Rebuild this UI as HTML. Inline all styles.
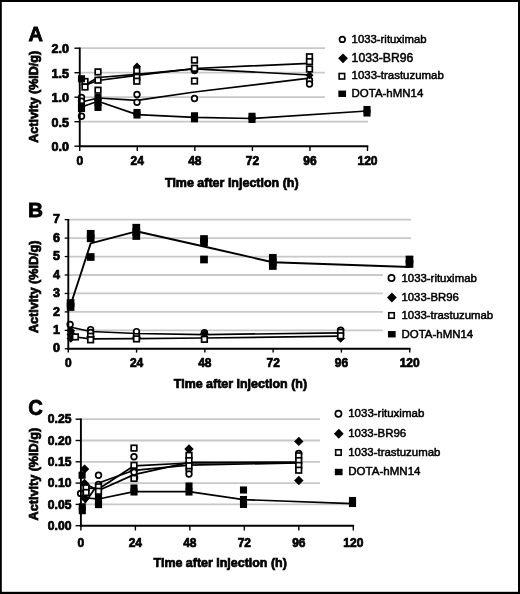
<!DOCTYPE html>
<html lang="en"><head><meta charset="utf-8"><title>Figure</title>
<style>html,body{margin:0;padding:0;background:#fff}svg{display:block}text{fill:#000}</style></head>
<body>
<svg width="520" height="594" viewBox="0 0 520 594" font-family="'Liberation Sans', sans-serif">
<g>
<rect x="-20" y="-20" width="560" height="634" fill="#fff"/>
<line x1="79.75" y1="121.7" x2="368.0" y2="121.7" stroke="#c8c8c8" stroke-width="1.8" />
<line x1="79.75" y1="97.2" x2="325" y2="97.2" stroke="#c8c8c8" stroke-width="1.8" />
<line x1="79.75" y1="72.7" x2="325" y2="72.7" stroke="#c8c8c8" stroke-width="1.8" />
<line x1="79.75" y1="48.2" x2="325" y2="48.2" stroke="#c8c8c8" stroke-width="1.8" />
<polyline points="81.5,102 98,98 137,100.4 194.5,92 309.5,78.2" fill="none" stroke="#000" stroke-width="1.7" stroke-linejoin="round"/>
<polyline points="85,85 98,77.5 137,74.3 194.5,68.8 309.5,75" fill="none" stroke="#000" stroke-width="1.7" stroke-linejoin="round"/>
<polyline points="84.5,85.5 98,80.5 137,75.3 194.5,68.5 309.5,63.3" fill="none" stroke="#000" stroke-width="1.7" stroke-linejoin="round"/>
<polyline points="81.5,107 98,101.3 137,114.6 194.5,117.3 252,118.5 367,111" fill="none" stroke="#000" stroke-width="1.7" stroke-linejoin="round"/>
<circle cx="81.5" cy="97.5" r="2.85" fill="#fff" stroke="#000" stroke-width="1.7"/>
<circle cx="81.5" cy="101.25" r="2.85" fill="#fff" stroke="#000" stroke-width="1.7"/>
<circle cx="81.5" cy="116.25" r="2.85" fill="#fff" stroke="#000" stroke-width="1.7"/>
<circle cx="137" cy="94.5" r="2.85" fill="#fff" stroke="#000" stroke-width="1.7"/>
<circle cx="137" cy="102.3" r="2.85" fill="#fff" stroke="#000" stroke-width="1.7"/>
<circle cx="194.5" cy="70.4" r="2.85" fill="#fff" stroke="#000" stroke-width="1.7"/>
<circle cx="194.5" cy="98.5" r="2.85" fill="#fff" stroke="#000" stroke-width="1.7"/>
<circle cx="309.5" cy="80.2" r="2.85" fill="#fff" stroke="#000" stroke-width="1.7"/>
<circle cx="309.5" cy="84" r="2.85" fill="#fff" stroke="#000" stroke-width="1.7"/>
<polygon points="137,62.5 141.0,66.5 137,70.5 133.0,66.5" fill="#000"/>
<polygon points="194.5,66.4 198.5,70.4 194.5,74.4 190.5,70.4" fill="#000"/>
<polygon points="309.5,71.3 313.5,75.3 309.5,79.3 305.5,75.3" fill="#000"/>
<rect x="82.20" y="78.70" width="5.6" height="5.6" fill="#fff" stroke="#000" stroke-width="1.7"/>
<rect x="82.20" y="84.20" width="5.6" height="5.6" fill="#fff" stroke="#000" stroke-width="1.7"/>
<rect x="95.20" y="69.10" width="5.6" height="5.6" fill="#fff" stroke="#000" stroke-width="1.7"/>
<rect x="95.20" y="77.40" width="5.6" height="5.6" fill="#fff" stroke="#000" stroke-width="1.7"/>
<rect x="95.20" y="87.40" width="5.6" height="5.6" fill="#fff" stroke="#000" stroke-width="1.7"/>
<rect x="134.00" y="67.80" width="5.6" height="5.6" fill="#fff" stroke="#000" stroke-width="1.7"/>
<rect x="134.00" y="74.50" width="5.6" height="5.6" fill="#fff" stroke="#000" stroke-width="1.7"/>
<rect x="134.00" y="78.40" width="5.6" height="5.6" fill="#fff" stroke="#000" stroke-width="1.7"/>
<rect x="191.70" y="57.30" width="5.6" height="5.6" fill="#fff" stroke="#000" stroke-width="1.7"/>
<rect x="191.70" y="65.50" width="5.6" height="5.6" fill="#fff" stroke="#000" stroke-width="1.7"/>
<rect x="191.70" y="78.20" width="5.6" height="5.6" fill="#fff" stroke="#000" stroke-width="1.7"/>
<rect x="306.70" y="54.00" width="5.6" height="5.6" fill="#fff" stroke="#000" stroke-width="1.7"/>
<rect x="306.70" y="58.80" width="5.6" height="5.6" fill="#fff" stroke="#000" stroke-width="1.7"/>
<rect x="306.70" y="66.20" width="5.6" height="5.6" fill="#fff" stroke="#000" stroke-width="1.7"/>
<rect x="77.95" y="75.20" width="7.1" height="7.1" fill="#000"/>
<rect x="77.95" y="102.45" width="7.1" height="7.1" fill="#000"/>
<rect x="77.95" y="104.95" width="7.1" height="7.1" fill="#000"/>
<rect x="94.45" y="94.05" width="7.1" height="7.1" fill="#000"/>
<rect x="94.45" y="98.95" width="7.1" height="7.1" fill="#000"/>
<rect x="94.45" y="103.85" width="7.1" height="7.1" fill="#000"/>
<rect x="133.45" y="108.95" width="7.1" height="7.1" fill="#000"/>
<rect x="133.45" y="111.45" width="7.1" height="7.1" fill="#000"/>
<rect x="190.95" y="112.25" width="7.1" height="7.1" fill="#000"/>
<rect x="190.95" y="115.25" width="7.1" height="7.1" fill="#000"/>
<rect x="248.45" y="112.75" width="7.1" height="7.1" fill="#000"/>
<rect x="248.45" y="115.85" width="7.1" height="7.1" fill="#000"/>
<rect x="363.45" y="105.95" width="7.1" height="7.1" fill="#000"/>
<rect x="363.45" y="109.45" width="7.1" height="7.1" fill="#000"/>
<line x1="79.75" y1="47.5" x2="79.75" y2="147.0" stroke="#000" stroke-width="1.9" />
<line x1="78.95" y1="146.2" x2="368.3" y2="146.2" stroke="#000" stroke-width="1.9" />
<line x1="74.45" y1="146.2" x2="79.75" y2="146.2" stroke="#000" stroke-width="1.4" />
<text transform="translate(68.9,151.2) scale(1.05,1)" font-size="12" font-weight="bold" text-anchor="end" stroke="#000" stroke-width="0.7">0.0</text>
<line x1="74.45" y1="121.7" x2="79.75" y2="121.7" stroke="#000" stroke-width="1.4" />
<text transform="translate(68.9,126.7) scale(1.05,1)" font-size="12" font-weight="bold" text-anchor="end" stroke="#000" stroke-width="0.7">0.5</text>
<line x1="74.45" y1="97.2" x2="79.75" y2="97.2" stroke="#000" stroke-width="1.4" />
<text transform="translate(68.9,102.2) scale(1.05,1)" font-size="12" font-weight="bold" text-anchor="end" stroke="#000" stroke-width="0.7">1.0</text>
<line x1="74.45" y1="72.7" x2="79.75" y2="72.7" stroke="#000" stroke-width="1.4" />
<text transform="translate(68.9,77.7) scale(1.05,1)" font-size="12" font-weight="bold" text-anchor="end" stroke="#000" stroke-width="0.7">1.5</text>
<line x1="74.45" y1="48.2" x2="79.75" y2="48.2" stroke="#000" stroke-width="1.4" />
<text transform="translate(68.9,53.2) scale(1.05,1)" font-size="12" font-weight="bold" text-anchor="end" stroke="#000" stroke-width="0.7">2.0</text>
<line x1="79.75" y1="146.2" x2="79.75" y2="151.0" stroke="#000" stroke-width="1.4" />
<text x="79.75" y="164.6" font-size="12" font-weight="bold" text-anchor="middle" stroke="#000" stroke-width="0.7" >0</text>
<line x1="137.3" y1="146.2" x2="137.3" y2="151.0" stroke="#000" stroke-width="1.4" />
<text x="137.3" y="164.6" font-size="12" font-weight="bold" text-anchor="middle" stroke="#000" stroke-width="0.7" >24</text>
<line x1="194.85" y1="146.2" x2="194.85" y2="151.0" stroke="#000" stroke-width="1.4" />
<text x="194.85" y="164.6" font-size="12" font-weight="bold" text-anchor="middle" stroke="#000" stroke-width="0.7" >48</text>
<line x1="252.4" y1="146.2" x2="252.4" y2="151.0" stroke="#000" stroke-width="1.4" />
<text x="252.4" y="164.6" font-size="12" font-weight="bold" text-anchor="middle" stroke="#000" stroke-width="0.7" >72</text>
<line x1="309.95" y1="146.2" x2="309.95" y2="151.0" stroke="#000" stroke-width="1.4" />
<text x="309.95" y="164.6" font-size="12" font-weight="bold" text-anchor="middle" stroke="#000" stroke-width="0.7" >96</text>
<line x1="367.5" y1="146.2" x2="367.5" y2="151.0" stroke="#000" stroke-width="1.4" />
<text x="367.5" y="164.6" font-size="12" font-weight="bold" text-anchor="middle" stroke="#000" stroke-width="0.7" >120</text>
<text x="165" y="187.2" font-size="12.4" font-weight="bold" text-anchor="start" textLength="133.6" lengthAdjust="spacingAndGlyphs" stroke="#000" stroke-width="0.7" >Time after Injection (h)</text>
<text transform="translate(38.0,142.8) rotate(-90)" font-size="12.3" font-weight="bold" stroke="#000" stroke-width="0.7" textLength="92" lengthAdjust="spacingAndGlyphs">Activity (%ID/g)</text>
<text x="28.4" y="40.7" font-size="20" font-weight="bold" stroke="#000" stroke-width="0.8" textLength="14.4" lengthAdjust="spacingAndGlyphs">A</text>
<circle cx="342.3" cy="39.4" r="2.8" fill="#fff" stroke="#000" stroke-width="1.7"/>
<text x="351.6" y="42.7" font-size="11.4" font-weight="normal" text-anchor="start" textLength="75" lengthAdjust="spacingAndGlyphs" stroke="#000" stroke-width="0.5" >1033-rituximab</text>
<polygon points="343.0,53.4 347.9,58.3 343.0,63.2 338.1,58.3" fill="#000"/>
<text x="351.6" y="61.7" font-size="12.3" font-weight="normal" text-anchor="start" textLength="61.7" lengthAdjust="spacingAndGlyphs" stroke="#000" stroke-width="0.5" >1033-BR96</text>
<rect x="339.15" y="73.50" width="5.5" height="5.5" fill="#fff" stroke="#000" stroke-width="1.6"/>
<text x="351.6" y="79.3" font-size="11.4" font-weight="normal" text-anchor="start" textLength="92.2" lengthAdjust="spacingAndGlyphs" stroke="#000" stroke-width="0.5" >1033-trastuzumab</text>
<rect x="338.35" y="90.55" width="7.7" height="6.4" fill="#000"/>
<text x="351.6" y="97.2" font-size="11.4" font-weight="normal" text-anchor="start" textLength="71.7" lengthAdjust="spacingAndGlyphs" stroke="#000" stroke-width="0.5" >DOTA-hMN14</text>
<line x1="68.3" y1="330.35" x2="382.8" y2="330.35" stroke="#c8c8c8" stroke-width="1.8" />
<line x1="68.3" y1="311.9" x2="382.8" y2="311.9" stroke="#c8c8c8" stroke-width="1.8" />
<line x1="68.3" y1="293.45" x2="382.8" y2="293.45" stroke="#c8c8c8" stroke-width="1.8" />
<line x1="68.3" y1="275.0" x2="382.8" y2="275.0" stroke="#c8c8c8" stroke-width="1.8" />
<line x1="68.3" y1="256.55" x2="411" y2="256.55" stroke="#c8c8c8" stroke-width="1.8" />
<line x1="68.3" y1="238.1" x2="411" y2="238.1" stroke="#c8c8c8" stroke-width="1.8" />
<line x1="68.3" y1="219.65" x2="411" y2="219.65" stroke="#c8c8c8" stroke-width="1.8" />
<polyline points="70,327 90.6,331.5 136.5,333.5 204.4,334.6 340.6,332.9" fill="none" stroke="#000" stroke-width="1.7" stroke-linejoin="round"/>
<polyline points="75.4,337 90.6,338.8 136.5,338.6 204.4,338 340.6,336.1" fill="none" stroke="#000" stroke-width="1.7" stroke-linejoin="round"/>
<polyline points="70.6,305 90.7,243.4 136.3,231.3 204,246.5 272.8,262.2 409.5,267" fill="none" stroke="#000" stroke-width="1.9" stroke-linejoin="round"/>
<polygon points="70.8,326.5 75.1,330.8 70.8,335.1 66.5,330.8" fill="#000"/>
<polygon points="70.8,330.3 75.1,334.6 70.8,338.9 66.5,334.6" fill="#000"/>
<polygon points="70.8,334.1 75.1,338.4 70.8,342.7 66.5,338.4" fill="#000"/>
<polygon points="72.6,330.7 76.9,335 72.6,339.3 68.3,335" fill="#000"/>
<polygon points="90.6,332.2 94.9,336.5 90.6,340.8 86.3,336.5" fill="#000"/>
<polygon points="136.5,333.2 140.8,337.5 136.5,341.8 132.2,337.5" fill="#000"/>
<polygon points="204.4,329.2 208.7,333.5 204.4,337.8 200.1,333.5" fill="#000"/>
<polygon points="340.6,334.2 344.9,338.5 340.6,342.8 336.3,338.5" fill="#000"/>
<circle cx="70.1" cy="324.4" r="2.85" fill="#fff" stroke="#000" stroke-width="1.7"/>
<circle cx="90.6" cy="329.6" r="2.85" fill="#fff" stroke="#000" stroke-width="1.7"/>
<circle cx="90.6" cy="332.4" r="2.85" fill="#fff" stroke="#000" stroke-width="1.7"/>
<circle cx="136.5" cy="331.6" r="2.85" fill="#fff" stroke="#000" stroke-width="1.7"/>
<circle cx="204.4" cy="332.6" r="2.85" fill="#fff" stroke="#000" stroke-width="1.7"/>
<circle cx="340.6" cy="330.3" r="2.85" fill="#fff" stroke="#000" stroke-width="1.7"/>
<polygon points="204.4,329.6 207.7,332.9 204.4,336.2 201.1,332.9" fill="#000"/>
<rect x="72.60" y="334.10" width="5.6" height="5.6" fill="#fff" stroke="#000" stroke-width="1.7"/>
<rect x="87.80" y="333.50" width="5.6" height="5.6" fill="#fff" stroke="#000" stroke-width="1.7"/>
<rect x="87.80" y="337.00" width="5.6" height="5.6" fill="#fff" stroke="#000" stroke-width="1.7"/>
<rect x="133.70" y="333.80" width="5.6" height="5.6" fill="#fff" stroke="#000" stroke-width="1.7"/>
<rect x="133.70" y="336.10" width="5.6" height="5.6" fill="#fff" stroke="#000" stroke-width="1.7"/>
<rect x="201.60" y="336.50" width="5.6" height="5.6" fill="#fff" stroke="#000" stroke-width="1.7"/>
<rect x="337.80" y="329.50" width="5.6" height="5.6" fill="#fff" stroke="#000" stroke-width="1.7"/>
<rect x="337.80" y="333.00" width="5.6" height="5.6" fill="#fff" stroke="#000" stroke-width="1.7"/>
<rect x="66.75" y="299.15" width="7.7" height="7.7" fill="#000"/>
<rect x="66.75" y="303.15" width="7.7" height="7.7" fill="#000"/>
<rect x="86.85" y="229.95" width="7.7" height="7.7" fill="#000"/>
<rect x="86.85" y="234.45" width="7.7" height="7.7" fill="#000"/>
<rect x="86.85" y="253.15" width="7.7" height="7.7" fill="#000"/>
<rect x="132.45" y="223.85" width="7.7" height="7.7" fill="#000"/>
<rect x="132.45" y="228.15" width="7.7" height="7.7" fill="#000"/>
<rect x="132.45" y="232.15" width="7.7" height="7.7" fill="#000"/>
<rect x="200.15" y="235.15" width="7.7" height="7.7" fill="#000"/>
<rect x="200.15" y="238.45" width="7.7" height="7.7" fill="#000"/>
<rect x="200.15" y="255.65" width="7.7" height="7.7" fill="#000"/>
<rect x="268.95" y="253.95" width="7.7" height="7.7" fill="#000"/>
<rect x="268.95" y="258.15" width="7.7" height="7.7" fill="#000"/>
<rect x="268.95" y="262.15" width="7.7" height="7.7" fill="#000"/>
<rect x="405.65" y="255.65" width="7.7" height="7.7" fill="#000"/>
<rect x="405.65" y="260.15" width="7.7" height="7.7" fill="#000"/>
<line x1="68.3" y1="218.95" x2="68.3" y2="349.7" stroke="#000" stroke-width="1.9" />
<line x1="67.5" y1="348.8" x2="410.6" y2="348.8" stroke="#000" stroke-width="2.0" />
<line x1="64.7" y1="348.8" x2="68.3" y2="348.8" stroke="#000" stroke-width="1.3" />
<text transform="translate(59.9,352.4) scale(1.05,1)" font-size="12" font-weight="bold" text-anchor="end" stroke="#000" stroke-width="0.7">0</text>
<line x1="64.7" y1="330.35" x2="68.3" y2="330.35" stroke="#000" stroke-width="1.3" />
<text transform="translate(59.9,333.95) scale(1.05,1)" font-size="12" font-weight="bold" text-anchor="end" stroke="#000" stroke-width="0.7">1</text>
<line x1="64.7" y1="311.9" x2="68.3" y2="311.9" stroke="#000" stroke-width="1.3" />
<text transform="translate(59.9,315.5) scale(1.05,1)" font-size="12" font-weight="bold" text-anchor="end" stroke="#000" stroke-width="0.7">2</text>
<line x1="64.7" y1="293.45" x2="68.3" y2="293.45" stroke="#000" stroke-width="1.3" />
<text transform="translate(59.9,297.05) scale(1.05,1)" font-size="12" font-weight="bold" text-anchor="end" stroke="#000" stroke-width="0.7">3</text>
<line x1="64.7" y1="275.0" x2="68.3" y2="275.0" stroke="#000" stroke-width="1.3" />
<text transform="translate(59.9,278.6) scale(1.05,1)" font-size="12" font-weight="bold" text-anchor="end" stroke="#000" stroke-width="0.7">4</text>
<line x1="64.7" y1="256.55" x2="68.3" y2="256.55" stroke="#000" stroke-width="1.3" />
<text transform="translate(59.9,260.15) scale(1.05,1)" font-size="12" font-weight="bold" text-anchor="end" stroke="#000" stroke-width="0.7">5</text>
<line x1="64.7" y1="238.1" x2="68.3" y2="238.1" stroke="#000" stroke-width="1.3" />
<text transform="translate(59.9,241.7) scale(1.05,1)" font-size="12" font-weight="bold" text-anchor="end" stroke="#000" stroke-width="0.7">6</text>
<line x1="64.7" y1="219.65" x2="68.3" y2="219.65" stroke="#000" stroke-width="1.3" />
<text transform="translate(59.9,223.25) scale(1.05,1)" font-size="12" font-weight="bold" text-anchor="end" stroke="#000" stroke-width="0.7">7</text>
<line x1="68.3" y1="348.8" x2="68.3" y2="352.6" stroke="#000" stroke-width="1.4" />
<text x="68.3" y="366.6" font-size="12" font-weight="bold" text-anchor="middle" stroke="#000" stroke-width="0.7" >0</text>
<line x1="136.58" y1="348.8" x2="136.58" y2="352.6" stroke="#000" stroke-width="1.4" />
<text x="136.58" y="366.6" font-size="12" font-weight="bold" text-anchor="middle" stroke="#000" stroke-width="0.7" >24</text>
<line x1="204.86" y1="348.8" x2="204.86" y2="352.6" stroke="#000" stroke-width="1.4" />
<text x="204.86" y="366.6" font-size="12" font-weight="bold" text-anchor="middle" stroke="#000" stroke-width="0.7" >48</text>
<line x1="273.14" y1="348.8" x2="273.14" y2="352.6" stroke="#000" stroke-width="1.4" />
<text x="273.14" y="366.6" font-size="12" font-weight="bold" text-anchor="middle" stroke="#000" stroke-width="0.7" >72</text>
<line x1="341.42" y1="348.8" x2="341.42" y2="352.6" stroke="#000" stroke-width="1.4" />
<text x="341.42" y="366.6" font-size="12" font-weight="bold" text-anchor="middle" stroke="#000" stroke-width="0.7" >96</text>
<line x1="409.7" y1="348.8" x2="409.7" y2="352.6" stroke="#000" stroke-width="1.4" />
<text x="409.7" y="366.6" font-size="12" font-weight="bold" text-anchor="middle" stroke="#000" stroke-width="0.7" >120</text>
<text x="173.8" y="388.2" font-size="12.4" font-weight="bold" text-anchor="start" textLength="133.3" lengthAdjust="spacingAndGlyphs" stroke="#000" stroke-width="0.7" >Time after Injection (h)</text>
<text transform="translate(37.9,333.0) rotate(-90)" font-size="12.3" font-weight="bold" stroke="#000" stroke-width="0.7" textLength="92.5" lengthAdjust="spacingAndGlyphs">Activity (%ID/g)</text>
<text x="28.0" y="217.2" font-size="20" font-weight="bold" stroke="#000" stroke-width="0.8" textLength="15.0" lengthAdjust="spacingAndGlyphs">B</text>
<circle cx="391.5" cy="278" r="3.1" fill="#fff" stroke="#000" stroke-width="1.7"/>
<text x="401.5" y="281.5" font-size="11.4" font-weight="normal" text-anchor="start" textLength="75.3" lengthAdjust="spacingAndGlyphs" stroke="#000" stroke-width="0.5" >1033-rituximab</text>
<polygon points="391.9,292.6 396.8,297.5 391.9,302.4 387.0,297.5" fill="#000"/>
<text x="401.5" y="300.5" font-size="11.4" font-weight="normal" text-anchor="start" textLength="57.4" lengthAdjust="spacingAndGlyphs" stroke="#000" stroke-width="0.5" >1033-BR96</text>
<rect x="388.75" y="312.75" width="5.5" height="5.5" fill="#fff" stroke="#000" stroke-width="1.6"/>
<text x="401.5" y="319.2" font-size="11.4" font-weight="normal" text-anchor="start" textLength="91.7" lengthAdjust="spacingAndGlyphs" stroke="#000" stroke-width="0.5" >1033-trastuzumab</text>
<rect x="387.95" y="331.05" width="7.7" height="6.4" fill="#000"/>
<text x="401.5" y="337.9" font-size="11.4" font-weight="normal" text-anchor="start" textLength="71.7" lengthAdjust="spacingAndGlyphs" stroke="#000" stroke-width="0.5" >DOTA-hMN14</text>
<line x1="80.9" y1="504.4" x2="353.5" y2="504.4" stroke="#c8c8c8" stroke-width="1.8" />
<line x1="80.9" y1="483.1" x2="320" y2="483.1" stroke="#c8c8c8" stroke-width="1.8" />
<line x1="80.9" y1="461.8" x2="320" y2="461.8" stroke="#c8c8c8" stroke-width="1.8" />
<line x1="80.9" y1="440.5" x2="320" y2="440.5" stroke="#c8c8c8" stroke-width="1.8" />
<line x1="80.9" y1="419.2" x2="320" y2="419.2" stroke="#c8c8c8" stroke-width="1.8" />
<polyline points="85,503 98.5,483 134,470.3 189,465.2 298.7,462.8" fill="none" stroke="#000" stroke-width="1.7" stroke-linejoin="round"/>
<polyline points="84.5,483.5 98.5,490.5 134,474.6 189,462.4 298.7,462.4" fill="none" stroke="#000" stroke-width="1.7" stroke-linejoin="round"/>
<polyline points="86.1,487.8 98.5,489 134,465.8 189,463 298.7,462.4" fill="none" stroke="#000" stroke-width="1.7" stroke-linejoin="round"/>
<polyline points="82.3,497.6 98.5,499 134,491.7 189,491.7 243.5,499.6 352.5,503.7" fill="none" stroke="#000" stroke-width="1.7" stroke-linejoin="round"/>
<polygon points="84.6,464.4 89.3,469.1 84.6,473.8 79.9,469.1" fill="#000"/>
<polygon points="84.5,478.8 89.2,483.5 84.5,488.2 79.8,483.5" fill="#000"/>
<polygon points="85.1,493.7 89.8,498.4 85.1,503.1 80.4,498.4" fill="#000"/>
<polygon points="134,465.8 138.7,470.5 134,475.2 129.3,470.5" fill="#000"/>
<polygon points="189,444.3 193.7,449 189,453.7 184.3,449" fill="#000"/>
<polygon points="298.8,436.7 303.5,441.4 298.8,446.1 294.1,441.4" fill="#000"/>
<polygon points="298.8,475.8 303.5,480.5 298.8,485.2 294.1,480.5" fill="#000"/>
<circle cx="80.6" cy="493.4" r="2.85" fill="#fff" stroke="#000" stroke-width="1.7"/>
<circle cx="98.5" cy="475.2" r="2.85" fill="#fff" stroke="#000" stroke-width="1.7"/>
<circle cx="98.5" cy="484.5" r="2.85" fill="#fff" stroke="#000" stroke-width="1.7"/>
<circle cx="134" cy="456.7" r="2.85" fill="#fff" stroke="#000" stroke-width="1.7"/>
<circle cx="134.6" cy="477.6" r="2.85" fill="#fff" stroke="#000" stroke-width="1.7"/>
<circle cx="134" cy="472.3" r="2.85" fill="#fff" stroke="#000" stroke-width="1.7"/>
<circle cx="189" cy="470.2" r="2.85" fill="#fff" stroke="#000" stroke-width="1.7"/>
<circle cx="189" cy="474" r="2.85" fill="#fff" stroke="#000" stroke-width="1.7"/>
<circle cx="298.7" cy="453.5" r="2.85" fill="#fff" stroke="#000" stroke-width="1.7"/>
<rect x="83.30" y="485.00" width="5.6" height="5.6" fill="#fff" stroke="#000" stroke-width="1.7"/>
<rect x="83.30" y="489.70" width="5.6" height="5.6" fill="#fff" stroke="#000" stroke-width="1.7"/>
<rect x="95.70" y="484.00" width="5.6" height="5.6" fill="#fff" stroke="#000" stroke-width="1.7"/>
<rect x="95.70" y="488.50" width="5.6" height="5.6" fill="#fff" stroke="#000" stroke-width="1.7"/>
<rect x="131.20" y="445.30" width="5.6" height="5.6" fill="#fff" stroke="#000" stroke-width="1.7"/>
<rect x="131.20" y="462.50" width="5.6" height="5.6" fill="#fff" stroke="#000" stroke-width="1.7"/>
<rect x="131.20" y="475.60" width="5.6" height="5.6" fill="#fff" stroke="#000" stroke-width="1.7"/>
<rect x="186.20" y="452.60" width="5.6" height="5.6" fill="#fff" stroke="#000" stroke-width="1.7"/>
<rect x="186.20" y="457.80" width="5.6" height="5.6" fill="#fff" stroke="#000" stroke-width="1.7"/>
<rect x="186.20" y="463.00" width="5.6" height="5.6" fill="#fff" stroke="#000" stroke-width="1.7"/>
<rect x="295.90" y="453.00" width="5.6" height="5.6" fill="#fff" stroke="#000" stroke-width="1.7"/>
<rect x="295.90" y="457.80" width="5.6" height="5.6" fill="#fff" stroke="#000" stroke-width="1.7"/>
<rect x="295.90" y="462.60" width="5.6" height="5.6" fill="#fff" stroke="#000" stroke-width="1.7"/>
<rect x="295.90" y="467.40" width="5.6" height="5.6" fill="#fff" stroke="#000" stroke-width="1.7"/>
<rect x="78.55" y="471.65" width="7.1" height="7.1" fill="#000"/>
<rect x="78.75" y="503.25" width="7.1" height="7.1" fill="#000"/>
<rect x="78.75" y="507.15" width="7.1" height="7.1" fill="#000"/>
<rect x="94.95" y="493.95" width="7.1" height="7.1" fill="#000"/>
<rect x="94.95" y="497.45" width="7.1" height="7.1" fill="#000"/>
<rect x="94.95" y="501.05" width="7.1" height="7.1" fill="#000"/>
<rect x="130.45" y="484.45" width="7.1" height="7.1" fill="#000"/>
<rect x="130.45" y="488.45" width="7.1" height="7.1" fill="#000"/>
<rect x="185.45" y="482.45" width="7.1" height="7.1" fill="#000"/>
<rect x="185.45" y="488.45" width="7.1" height="7.1" fill="#000"/>
<rect x="239.95" y="486.45" width="7.1" height="7.1" fill="#000"/>
<rect x="239.95" y="495.95" width="7.1" height="7.1" fill="#000"/>
<rect x="239.95" y="500.85" width="7.1" height="7.1" fill="#000"/>
<rect x="348.95" y="496.95" width="7.1" height="7.1" fill="#000"/>
<rect x="348.95" y="499.95" width="7.1" height="7.1" fill="#000"/>
<line x1="80.9" y1="418.5" x2="80.9" y2="526.5" stroke="#000" stroke-width="1.9" />
<line x1="80.1" y1="525.7" x2="354.1" y2="525.7" stroke="#000" stroke-width="1.9" />
<line x1="75.6" y1="525.7" x2="80.9" y2="525.7" stroke="#000" stroke-width="1.4" />
<text transform="translate(71.4,529.9) scale(1.01,1)" font-size="12" font-weight="bold" text-anchor="end" stroke="#000" stroke-width="0.7">0.00</text>
<line x1="75.6" y1="504.4" x2="80.9" y2="504.4" stroke="#000" stroke-width="1.4" />
<text transform="translate(71.4,508.6) scale(1.01,1)" font-size="12" font-weight="bold" text-anchor="end" stroke="#000" stroke-width="0.7">0.05</text>
<line x1="75.6" y1="483.1" x2="80.9" y2="483.1" stroke="#000" stroke-width="1.4" />
<text transform="translate(71.4,487.3) scale(1.01,1)" font-size="12" font-weight="bold" text-anchor="end" stroke="#000" stroke-width="0.7">0.10</text>
<line x1="75.6" y1="461.8" x2="80.9" y2="461.8" stroke="#000" stroke-width="1.4" />
<text transform="translate(71.4,466.0) scale(1.01,1)" font-size="12" font-weight="bold" text-anchor="end" stroke="#000" stroke-width="0.7">0.15</text>
<line x1="75.6" y1="440.5" x2="80.9" y2="440.5" stroke="#000" stroke-width="1.4" />
<text transform="translate(71.4,444.7) scale(1.01,1)" font-size="12" font-weight="bold" text-anchor="end" stroke="#000" stroke-width="0.7">0.20</text>
<line x1="75.6" y1="419.2" x2="80.9" y2="419.2" stroke="#000" stroke-width="1.4" />
<text transform="translate(71.4,423.4) scale(1.01,1)" font-size="12" font-weight="bold" text-anchor="end" stroke="#000" stroke-width="0.7">0.25</text>
<line x1="80.9" y1="525.7" x2="80.9" y2="530.5" stroke="#000" stroke-width="1.4" />
<text x="80.9" y="546.8" font-size="12" font-weight="bold" text-anchor="middle" stroke="#000" stroke-width="0.7" >0</text>
<line x1="135.38" y1="525.7" x2="135.38" y2="530.5" stroke="#000" stroke-width="1.4" />
<text x="135.38" y="546.8" font-size="12" font-weight="bold" text-anchor="middle" stroke="#000" stroke-width="0.7" >24</text>
<line x1="189.86" y1="525.7" x2="189.86" y2="530.5" stroke="#000" stroke-width="1.4" />
<text x="189.86" y="546.8" font-size="12" font-weight="bold" text-anchor="middle" stroke="#000" stroke-width="0.7" >48</text>
<line x1="244.34" y1="525.7" x2="244.34" y2="530.5" stroke="#000" stroke-width="1.4" />
<text x="244.34" y="546.8" font-size="12" font-weight="bold" text-anchor="middle" stroke="#000" stroke-width="0.7" >72</text>
<line x1="298.82" y1="525.7" x2="298.82" y2="530.5" stroke="#000" stroke-width="1.4" />
<text x="298.82" y="546.8" font-size="12" font-weight="bold" text-anchor="middle" stroke="#000" stroke-width="0.7" >96</text>
<line x1="353.3" y1="525.7" x2="353.3" y2="530.5" stroke="#000" stroke-width="1.4" />
<text x="353.3" y="546.8" font-size="12" font-weight="bold" text-anchor="middle" stroke="#000" stroke-width="0.7" >120</text>
<text x="153.6" y="567.4" font-size="12.4" font-weight="bold" text-anchor="start" textLength="133.2" lengthAdjust="spacingAndGlyphs" stroke="#000" stroke-width="0.7" >Time after Injection (h)</text>
<text transform="translate(37.8,520.4) rotate(-90)" font-size="12.3" font-weight="bold" stroke="#000" stroke-width="0.7" textLength="92.5" lengthAdjust="spacingAndGlyphs">Activity (%ID/g)</text>
<text x="28.3" y="414.7" font-size="21.8" font-weight="bold" stroke="#000" stroke-width="0.8" textLength="14.6" lengthAdjust="spacingAndGlyphs">C</text>
<circle cx="338.4" cy="413.75" r="3.1" fill="#fff" stroke="#000" stroke-width="1.7"/>
<text x="348.2" y="417.2" font-size="11.4" font-weight="normal" text-anchor="start" textLength="76.1" lengthAdjust="spacingAndGlyphs" stroke="#000" stroke-width="0.5" >1033-rituximab</text>
<polygon points="338.8,428.85 343.7,433.75 338.8,438.65 333.9,433.75" fill="#000"/>
<text x="348.2" y="437.2" font-size="11.4" font-weight="normal" text-anchor="start" textLength="58" lengthAdjust="spacingAndGlyphs" stroke="#000" stroke-width="0.5" >1033-BR96</text>
<rect x="335.65" y="449.75" width="5.5" height="5.5" fill="#fff" stroke="#000" stroke-width="1.6"/>
<text x="348.2" y="456.0" font-size="11.4" font-weight="normal" text-anchor="start" textLength="92.3" lengthAdjust="spacingAndGlyphs" stroke="#000" stroke-width="0.5" >1033-trastuzumab</text>
<rect x="334.85" y="468.80" width="7.7" height="6.4" fill="#000"/>
<text x="348.2" y="475.3" font-size="11.4" font-weight="normal" text-anchor="start" textLength="72.3" lengthAdjust="spacingAndGlyphs" stroke="#000" stroke-width="0.5" >DOTA-hMN14</text>
<rect x="-20" y="-20" width="560" height="22.0" fill="#000"/>
<rect x="-20" y="591.8" width="560" height="22.2" fill="#000"/>
<rect x="-20" y="-20" width="21.8" height="634" fill="#000"/>
<rect x="518.0" y="-20" width="22.0" height="634" fill="#000"/>
</g>
</svg>
</body></html>
